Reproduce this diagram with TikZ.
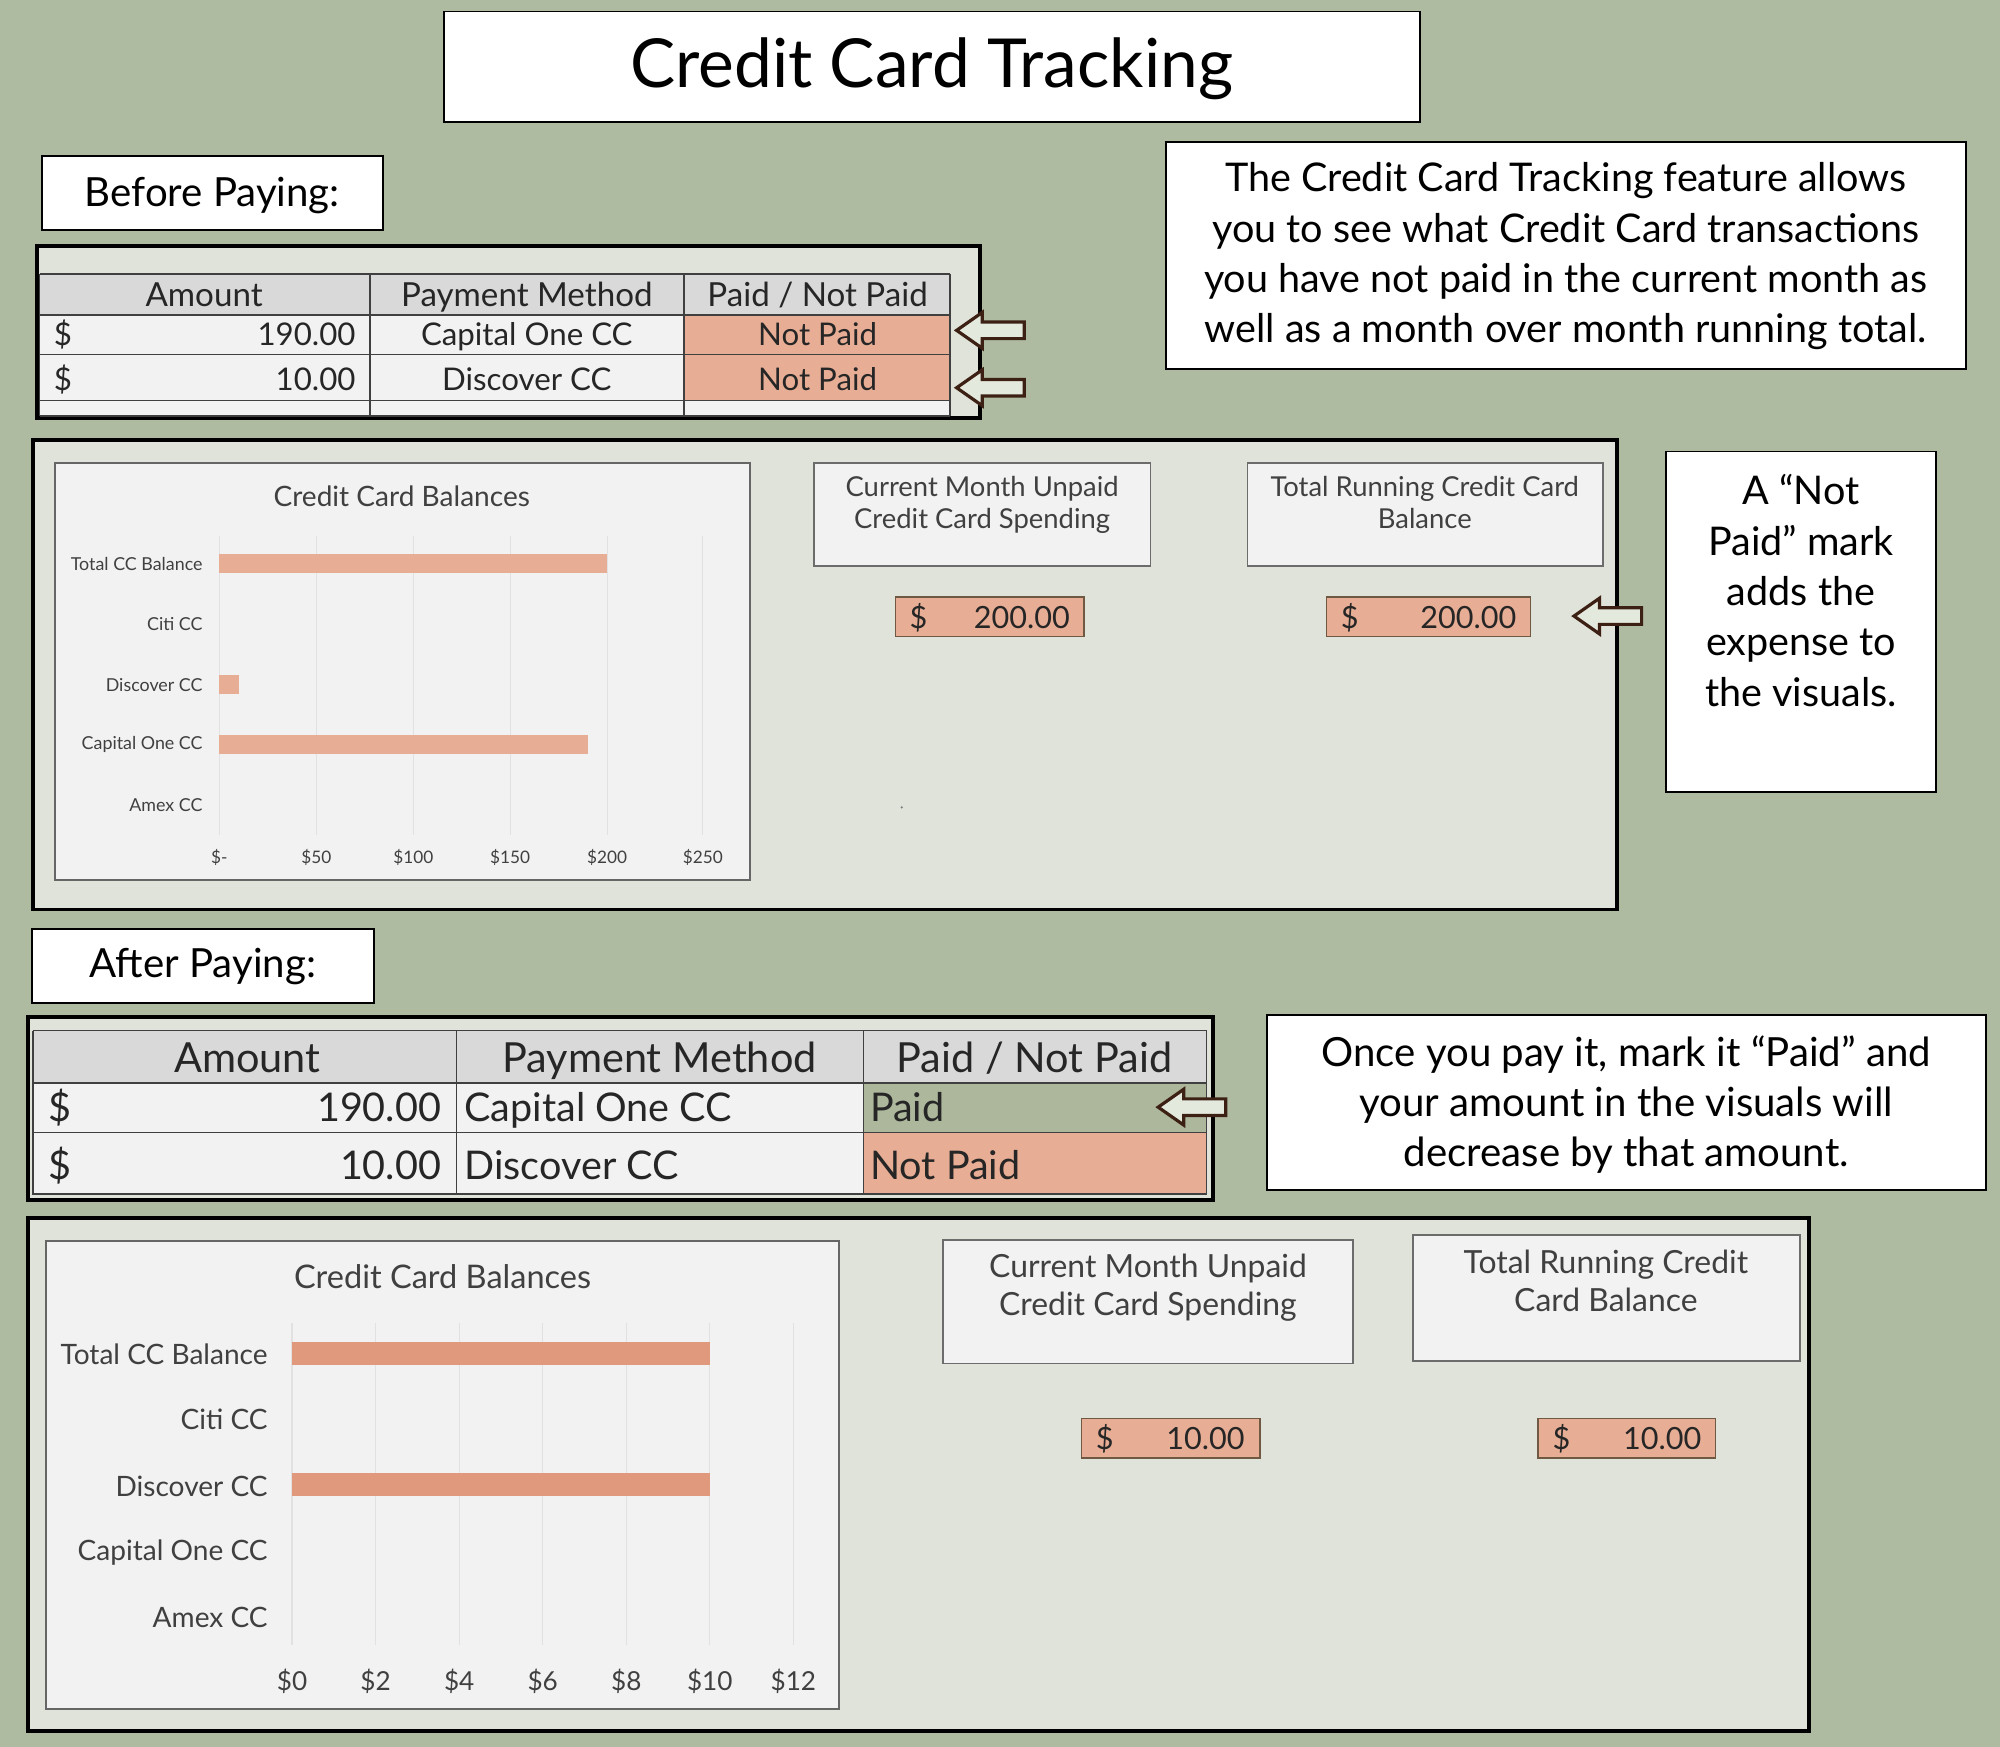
\documentclass[tikz,border=0pt]{standalone}
\usepackage{fontspec}
\setmainfont{Lato}
\definecolor{bgc}{HTML}{AFBBA0}
\definecolor{panelc}{HTML}{DFE3D9}
\definecolor{chartc}{HTML}{F2F2F2}
\definecolor{salmon}{HTML}{E8AE95}
\definecolor{bartwo}{HTML}{E0997D}
\definecolor{hdrc}{HTML}{D9D9D9}
\definecolor{paidc}{HTML}{ADB79C}
\definecolor{txtc}{HTML}{262626}
\definecolor{lblc}{HTML}{404040}
\definecolor{brownc}{HTML}{3D2014}
\definecolor{arrfill}{HTML}{E4E9DE}
\newcommand{\fsz}[1]{\fontsize{#1}{#1}\selectfont}
\newcommand{\hollowarrow}[2]{\draw[arrowst] (#1,#2) -- ++(20,-14) -- ++(0,7.5) -- ++(33,0) -- ++(0,13) -- ++(-33,0) -- ++(0,7.5) -- cycle;}
\tikzset{
  whitebox/.style={draw=black, line width=1.5pt, fill=white},
  panel/.style={draw=black, line width=3pt, fill=panelc},
  chartbox/.style={draw=gray!80!black, line width=1.5pt, fill=chartc},
  cardbox/.style={draw=gray!85!black, line width=1.5pt, fill=chartc},
  valbox/.style={draw=gray!50!brown!70!black, line width=1.3pt, fill=salmon},
  arrowst/.style={draw=brownc, line width=2.5pt, fill=arrfill, line join=miter},
  gline/.style={draw=lblc, line width=1.3pt},
  grid/.style={draw=hdrc!80!white, line width=1pt},
  txt/.style={inner sep=0pt, text=txtc},
  lbl/.style={inner sep=0pt, text=lblc},
  bigtext/.style={inner sep=0pt, text=black, align=center, font={\fontsize{31}{39.5}\selectfont}},
}
\begin{document}
\begin{tikzpicture}[x=1pt, y=-1pt]
\useasboundingbox (0,0) rectangle (1568,1369.6);
\fill[bgc] (0,0) rectangle (1568,1369.6);

% title
\draw[whitebox] (348,9) rectangle (1113,96);
\node[txt, text=black] (title) at (730.5,54) {\fsz{53}Credit Card Tracking};

% before paying label
\draw[whitebox] (33,122) rectangle (300,180);
\node[txt, text=black] (before) at (166.5,153) {\fsz{31.5}Before Paying:};

% info box 1
\draw[whitebox] (914,111) rectangle (1541,289);
\node[bigtext] (info1) at (1227.5,201) {The Credit Card Tracking feature allows\\you to see what Credit Card transactions\\you have not paid in the current month as\\well as a month over month running total.};

% before table
\draw[panel] (29,193) rectangle (768,328);
\fill[hdrc] (31,215) rectangle (745,247);
\fill[chartc] (31,247) rectangle (745,326);
\fill[salmon] (536,247) rectangle (745,314);
\foreach \yy in {215,247,278,314,326} \draw[gline] (31,\yy) -- (745,\yy);
\foreach \xx in {31,290,536,745} \draw[gline] (\xx,215) -- (\xx,326);
\node[txt, anchor=base] (bh1) at (160,240.5) {\fsz{26}Amount};
\node[txt, anchor=base] (bh2) at (413,240.5) {\fsz{26}Payment Method};
\node[txt, anchor=base] (bh3) at (641,240.5) {\fsz{26}Paid / Not Paid};
\node[txt, anchor=base west] (b1a) at (42,271) {\fsz{24.5}\$};
\node[txt, anchor=base east] (b1b) at (279,271) {\fsz{24.5}190.00};
\node[txt, anchor=base] (b1c) at (413,271) {\fsz{24.5}Capital One CC};
\node[txt, anchor=base] (b1d) at (641,271) {\fsz{24.5}Not Paid};
\node[txt, anchor=base west] (b2a) at (42,306) {\fsz{24.5}\$};
\node[txt, anchor=base east] (b2b) at (279,306) {\fsz{24.5}10.00};
\node[txt, anchor=base] (b2c) at (413,306) {\fsz{24.5}Discover CC};
\node[txt, anchor=base] (b2d) at (641,306) {\fsz{24.5}Not Paid};
\hollowarrow{750}{259}
\hollowarrow{750}{304}

% before dashboard
\draw[panel] (26,345) rectangle (1268,713);
\draw[chartbox] (43,363) rectangle (588,690);
\node[lbl] (c1t) at (315,389) {\fsz{22}Credit Card Balances};
\foreach \xx in {172,248,324,400,476,551} \draw[grid] (\xx,420) -- (\xx,655);
\fill[salmon] (172,434) rectangle (476,449);
\fill[salmon] (172,529) rectangle (187,544);
\fill[salmon] (172,576) rectangle (461,591);
\node[lbl, anchor=east] (c1a) at (159,442) {\fsz{14}Total CC Balance};
\node[lbl, anchor=east] (c1b) at (159,489) {\fsz{14}Citi CC};
\node[lbl, anchor=east] (c1c) at (159,537) {\fsz{14}Discover CC};
\node[lbl, anchor=east] (c1d) at (159,584) {\fsz{14}Capital One CC};
\node[lbl, anchor=east] (c1e) at (159,631) {\fsz{14}Amex CC};
\node[lbl] (x1a) at (172,672) {\fsz{13.5}\$-};
\node[lbl] (x1b) at (248,672) {\fsz{13.5}\$50};
\node[lbl] (x1c) at (324,672) {\fsz{13.5}\$100};
\node[lbl] (x1d) at (400,672) {\fsz{13.5}\$150};
\node[lbl] (x1e) at (476,672) {\fsz{13.5}\$200};
\node[lbl] (x1f) at (551,672) {\fsz{13.5}\$250};

\draw[cardbox] (638,363) rectangle (902,444);
\node[lbl, align=center, anchor=north, font={\fontsize{21.5}{25.5}\selectfont}] (cm1) at (770,373) {Current Month Unpaid\\Credit Card Spending};
\draw[cardbox] (978,363) rectangle (1257,444);
\node[lbl, align=center, anchor=north, font={\fontsize{21.5}{25.5}\selectfont}] (tr1) at (1117,373) {Total Running Credit Card\\Balance};
\draw[valbox] (702,468) rectangle (850,499);
\node[txt, anchor=west] (v1a) at (713,484) {\fsz{24}\$};
\node[txt, anchor=east] (v1b) at (839,484) {\fsz{24}200.00};
\draw[valbox] (1040,468) rectangle (1200,499);
\node[txt, anchor=west] (v2a) at (1051,484) {\fsz{24}\$};
\node[txt, anchor=east] (v2b) at (1189,484) {\fsz{24}200.00};
\hollowarrow{1234}{483}
\fill[gray] (707,633) circle (1);

% note box
\draw[whitebox] (1306,354) rectangle (1518,621);
\node[bigtext] (note) at (1412,463) {A “Not\\Paid” mark\\adds the\\expense to\\the visuals.};

% after paying label
\draw[whitebox] (25,728) rectangle (293,786);
\node[txt, text=black] (after) at (159,758) {\fsz{31.5}After Paying:};

% after table
\draw[panel] (22,797) rectangle (951,941);
\fill[hdrc] (26,808) rectangle (946,849);
\fill[chartc] (26,849) rectangle (946,937);
\fill[paidc] (677,849) rectangle (946,888);
\fill[salmon] (677,888) rectangle (946,936);
\foreach \yy in {808,849,888,936} \draw[gline] (26,\yy) -- (946,\yy);
\foreach \xx in {26,358,677,946} \draw[gline] (\xx,808) -- (\xx,937);
\node[txt, anchor=base] (ah1) at (194,841) {\fsz{32.5}Amount};
\node[txt, anchor=base] (ah2) at (517,841) {\fsz{32.5}Payment Method};
\node[txt, anchor=base] (ah3) at (811,841) {\fsz{32.5}Paid / Not Paid};
\node[txt, anchor=base west] (a1a) at (38,879) {\fsz{31}\$};
\node[txt, anchor=base east] (a1b) at (346,879) {\fsz{31}190.00};
\node[txt, anchor=base west] (a1c) at (364,879) {\fsz{31}Capital One CC};
\node[txt, anchor=base west] (a1d) at (682,879) {\fsz{31}Paid};
\node[txt, anchor=base west] (a2a) at (38,925) {\fsz{31}\$};
\node[txt, anchor=base east] (a2b) at (346,925) {\fsz{31}10.00};
\node[txt, anchor=base west] (a2c) at (364,925) {\fsz{31}Discover CC};
\node[txt, anchor=base west] (a2d) at (682,925) {\fsz{31}Not Paid};
\hollowarrow{908}{868}

% info box 2
\draw[whitebox] (993,796) rectangle (1557,933);
\node[bigtext, font={\fontsize{31.5}{39.5}\selectfont}] (info2) at (1275,866) {Once you pay it, mark it “Paid” and\\your amount in the visuals will\\decrease by that amount.};

% after dashboard
\draw[panel] (22,955) rectangle (1418,1357);
\draw[chartbox] (36,973) rectangle (658,1340);
\node[lbl] (c2t) at (347,1001) {\fsz{25.5}Credit Card Balances};
\foreach \xx in {229,294.5,360,425.5,491,556.5,622} \draw[grid] (\xx,1037) -- (\xx,1290);
\fill[bartwo] (229,1052) rectangle (556.5,1070);
\fill[bartwo] (229,1155) rectangle (556.5,1173);
\node[lbl, anchor=east] (c2a) at (210,1062) {\fsz{22}Total CC Balance};
\node[lbl, anchor=east] (c2b) at (210,1113) {\fsz{22}Citi CC};
\node[lbl, anchor=east] (c2c) at (210,1165) {\fsz{22}Discover CC};
\node[lbl, anchor=east] (c2d) at (210,1217) {\fsz{22}Capital One CC};
\node[lbl, anchor=east] (c2e) at (210,1268) {\fsz{22}Amex CC};
\node[lbl] (x2a) at (229,1318) {\fsz{20.5}\$0};
\node[lbl] (x2b) at (294.5,1318) {\fsz{20.5}\$2};
\node[lbl] (x2c) at (360,1318) {\fsz{20.5}\$4};
\node[lbl] (x2d) at (425.5,1318) {\fsz{20.5}\$6};
\node[lbl] (x2e) at (491,1318) {\fsz{20.5}\$8};
\node[lbl] (x2f) at (556.5,1318) {\fsz{20.5}\$10};
\node[lbl] (x2g) at (622,1318) {\fsz{20.5}\$12};

\draw[cardbox] (739,972) rectangle (1061,1069);
\node[lbl, align=center, anchor=north, font={\fontsize{25}{29.5}\selectfont}] (cm2) at (900,983) {Current Month Unpaid\\Credit Card Spending};
\draw[cardbox] (1108,968) rectangle (1411,1067);
\node[lbl, align=center, anchor=north, font={\fontsize{25}{29.5}\selectfont}] (tr2) at (1259,980) {Total Running Credit\\Card Balance};
\draw[valbox] (848,1112) rectangle (988,1143);
\node[txt, anchor=west] (v3a) at (859,1128) {\fsz{24}\$};
\node[txt, anchor=east] (v3b) at (976,1128) {\fsz{24}10.00};
\draw[valbox] (1206,1112) rectangle (1345,1143);
\node[txt, anchor=west] (v4a) at (1217,1128) {\fsz{24}\$};
\node[txt, anchor=east] (v4b) at (1334,1128) {\fsz{24}10.00};
\end{tikzpicture}
\end{document}
